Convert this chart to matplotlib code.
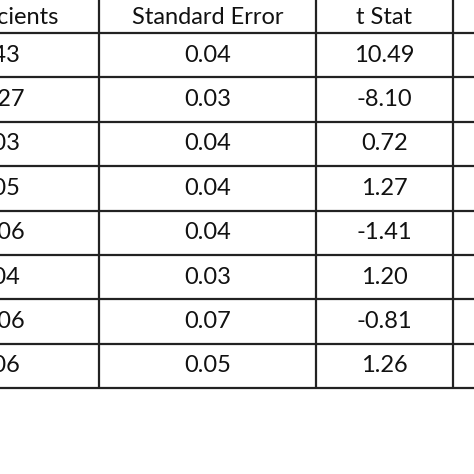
import matplotlib
matplotlib.use("Agg")
import matplotlib.pyplot as plt

headers = ["Coefficients", "Standard Error", "t Stat"]
coef = ["0.43", "-0.27", "0.03", "0.05", "-0.06", "0.04", "-0.06", "0.06"]
se = ["0.04", "0.03", "0.04", "0.04", "0.04", "0.03", "0.07", "0.05"]
tstat = ["10.49", "-8.10", "0.72", "1.27", "-1.41", "1.20", "-0.81", "1.26"]

fig = plt.figure(figsize=(4.74, 4.74), dpi=100)
ax = fig.add_axes([0, 0, 1, 1])
ax.set_xlim(0, 474); ax.set_ylim(474, 0); ax.axis("off")

vx = [99, 316, 453]
top_line = 33
step = 44.4
nrows = len(coef)
hy = [top_line + i * step for i in range(nrows + 1)]
lw = 1.6
for x in vx:
    ax.plot([x, x], [-5, hy[-1]], color="#222", lw=lw, solid_capstyle="butt")
for y in hy:
    ax.plot([0, 474], [y, y], color="#222", lw=lw)

font = dict(family="Lato", fontsize=17, color="#111", va="center")
centers = [-3, 207.5, 384.5]
cols = [coef, se, tstat]
for c, h in zip(centers, headers):
    ax.text(c, 17, h, ha="center", **font)
for i in range(nrows):
    yc = top_line + step * (i + 0.5)
    for c, col in zip(centers, cols):
        ax.text(c, yc, col[i], ha="center", **font)

fig.savefig("out.png", dpi=100)
